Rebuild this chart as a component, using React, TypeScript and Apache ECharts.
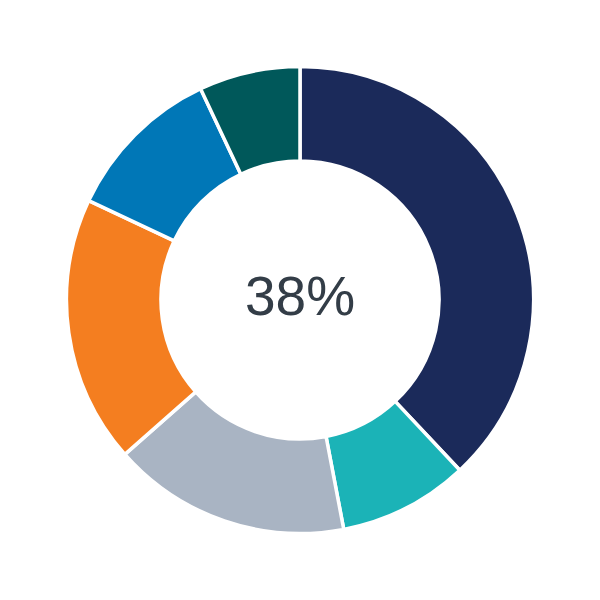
import { useEffect, useRef } from 'react';
import * as echarts from 'echarts';

const categories = ['A', 'B', 'C', 'D', 'E', 'F'];
const values = [38, 9, 16.5, 18.5, 11, 7];
const colors = ['#1B2A5A', '#1BB3B7', '#A9B4C3', '#F47E20', '#0077B7', '#00585A'];
const centerLabel = '38%';

export default function App() {
  const chartRef = useRef<HTMLDivElement>(null);

  useEffect(() => {
    if (!chartRef.current) return;
    const chart = echarts.init(chartRef.current, null, { renderer: 'svg' });

    const option: echarts.EChartsOption = {
      animation: false,
      backgroundColor: '#fff',
      graphic: [
        {
          type: 'text',
          x: 300,
          y: 296,
          style: {
            text: centerLabel,
            fontSize: 55,
            fontFamily: '"Liberation Sans", Arial, sans-serif',
            fill: '#333D47',
            align: 'center',
            verticalAlign: 'middle',
          },
          z: 10,
        },
      ],
      series: [
        {
          type: 'pie',
          center: [300, 300],
          radius: [139, 233.5],
          startAngle: 90,
          clockwise: true,
          label: { show: false },
          labelLine: { show: false },
          emphasis: { disabled: true },
          itemStyle: { borderColor: '#fff', borderWidth: 3.5 },
          data: categories.map((name, i) => ({
            name,
            value: values[i],
            itemStyle: { color: colors[i] },
          })),
        },
      ],
    };

    chart.setOption(option);
    return () => chart.dispose();
  }, []);

  return (
    <div
      ref={chartRef}
      style={{ position: 'fixed', left: 0, top: 0, width: '600px', height: '600px' }}
    />
  );
}
